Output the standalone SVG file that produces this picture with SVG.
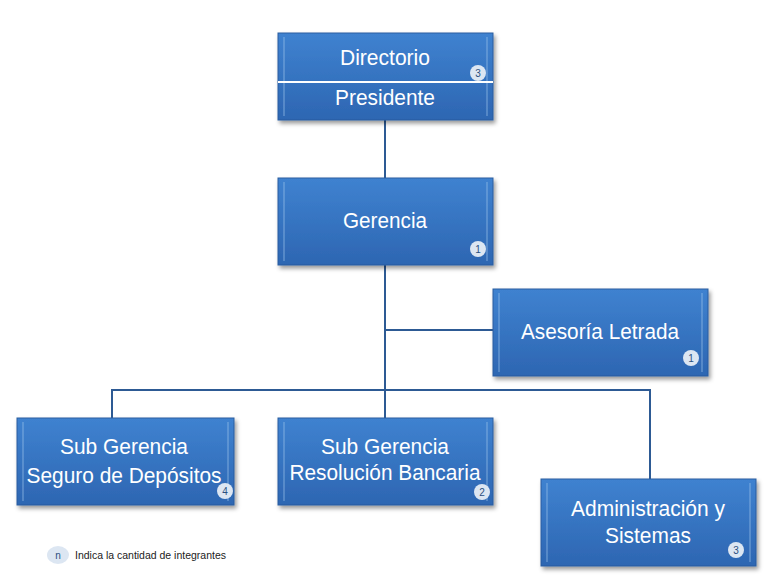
<svg xmlns="http://www.w3.org/2000/svg" width="768" height="576" viewBox="0 0 768 576">
<defs>
<linearGradient id="g" x1="0" y1="0" x2="0" y2="1"><stop offset="0" stop-color="#3f82d0"/><stop offset="1" stop-color="#2d66b2"/></linearGradient>
<filter id="s" x="-10%" y="-10%" width="130%" height="130%"><feDropShadow dx="2" dy="3" stdDeviation="2" flood-color="#000" flood-opacity="0.4"/></filter>
</defs>
<style>
.box{fill:url(#g);stroke:#2a5d9f;stroke-width:1;filter:url(#s)}
.edge{fill:none;stroke:#9ec3ea;stroke-width:1;opacity:0.7}
.t{font-family:"Liberation Sans",Arial,sans-serif;font-size:22px;fill:#fff;text-anchor:middle}
.b{fill:#dce6f2}
.bt{font-family:"Liberation Sans",Arial,sans-serif;font-size:10px;fill:#2a4f80;text-anchor:middle}
.c{stroke:#2d5a94;stroke-width:2;fill:none}
</style>
<g id="connectors">
<path class="c" d="M385 120V178M385 265V418M385 330H493M112 418V390H650V479"/>
</g>
<g id="directorio">
<rect class="box" x="278" y="33" width="215" height="87"/>
<path class="edge" d="M284 37V116M487 37V116"/>
<line x1="278" y1="82" x2="493" y2="82" stroke="#fff" stroke-width="2"/>
<text class="t" x="385" y="65" textLength="90" lengthAdjust="spacingAndGlyphs">Directorio</text>
<text class="t" x="385" y="105" textLength="100" lengthAdjust="spacingAndGlyphs">Presidente</text>
<circle class="b" cx="478" cy="73" r="8"/><text class="bt" x="478" y="77">3</text>
</g>
<g id="gerencia">
<rect class="box" x="278" y="178" width="215" height="87"/>
<path class="edge" d="M284 182V261M487 182V261"/>
<text class="t" x="385" y="228" textLength="84" lengthAdjust="spacingAndGlyphs">Gerencia</text>
<circle class="b" cx="478" cy="249" r="8"/><text class="bt" x="478" y="253">1</text>
</g>
<g id="asesoria">
<rect class="box" x="493" y="289" width="215" height="87"/>
<path class="edge" d="M499 293V372M702 293V372"/>
<text class="t" x="600" y="339" textLength="158" lengthAdjust="spacingAndGlyphs">Asesoría Letrada</text>
<circle class="b" cx="691" cy="358" r="8"/><text class="bt" x="691" y="362">1</text>
</g>
<g id="seguro">
<rect class="box" x="17" y="418" width="217" height="87"/>
<path class="edge" d="M23 422V501M228 422V501"/>
<text class="t" x="124" y="454" textLength="128" lengthAdjust="spacingAndGlyphs">Sub Gerencia</text>
<text class="t" x="124" y="483" textLength="195" lengthAdjust="spacingAndGlyphs">Seguro de Depósitos</text>
<circle class="b" cx="225" cy="491" r="8"/><text class="bt" x="225" y="495">4</text>
</g>
<g id="resolucion">
<rect class="box" x="278" y="418" width="215" height="87"/>
<path class="edge" d="M284 422V501M487 422V501"/>
<text class="t" x="385" y="454" textLength="128" lengthAdjust="spacingAndGlyphs">Sub Gerencia</text>
<text class="t" x="385" y="480" textLength="191" lengthAdjust="spacingAndGlyphs">Resolución Bancaria</text>
<circle class="b" cx="482" cy="492" r="8"/><text class="bt" x="482" y="496">2</text>
</g>
<g id="admin">
<rect class="box" x="541" y="479" width="215" height="87"/>
<path class="edge" d="M547 483V562M750 483V562"/>
<text class="t" x="648" y="516" textLength="154" lengthAdjust="spacingAndGlyphs">Administración y</text>
<text class="t" x="648" y="543" textLength="86" lengthAdjust="spacingAndGlyphs">Sistemas</text>
<circle class="b" cx="736" cy="550" r="8"/><text class="bt" x="736" y="554">3</text>
</g>
<g id="legend">
<ellipse class="b" cx="58" cy="555" rx="11" ry="9"/><text class="bt" x="58" y="559">n</text>
<text x="75" y="559" font-family="'Liberation Sans',Arial,sans-serif" font-size="11" fill="#222" textLength="151" lengthAdjust="spacingAndGlyphs">Indica la cantidad de integrantes</text>
</g>
</svg>
